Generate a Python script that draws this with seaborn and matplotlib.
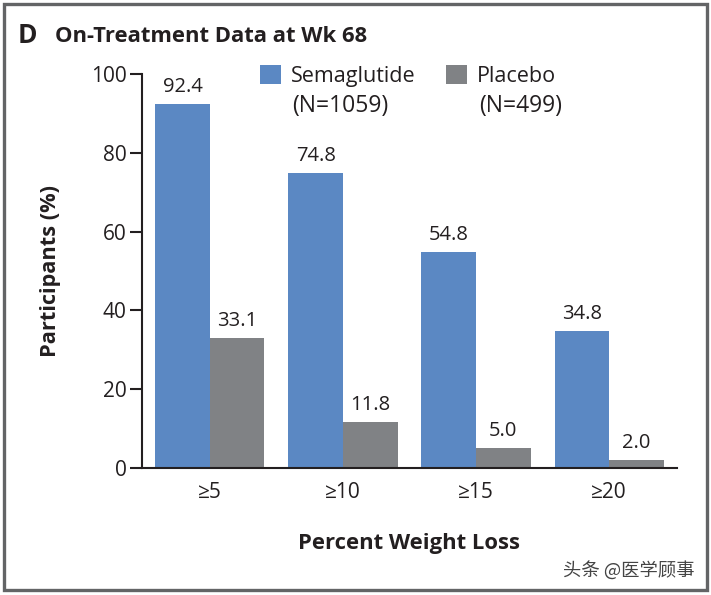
import pandas as pd
import seaborn as sns
import matplotlib.pyplot as plt
from matplotlib.patches import Rectangle

categories = ["≥5", "≥10", "≥15", "≥20"]
semaglutide = [92.4, 74.8, 54.8, 34.8]
placebo = [33.1, 11.8, 5.0, 2.0]
group_names = ["Semaglutide", "Placebo"]
group_counts = ["(N=1059)", "(N=499)"]
y_ticks = [0, 20, 40, 60, 80, 100]

df = pd.DataFrame({
    "threshold": categories * 2,
    "value": semaglutide + placebo,
    "group": [group_names[0]] * 4 + [group_names[1]] * 4,
})

sns.set_style("white")
plt.rcParams["font.family"] = ["Open Sans", "DejaVu Sans"]
ink = "#231f20"

W, H = 711, 595
fig = plt.figure(figsize=(W / 100, H / 100), dpi=100)
ax = fig.add_axes([142 / W, 1 - 468 / H, (677 - 142) / W, (468 - 74) / H])

sns.barplot(data=df, x="threshold", y="value", hue="group", ax=ax, width=0.82,
            palette=["#5b88c3", "#808285"], saturation=1, linewidth=0, legend=True)

for bars in ax.containers:
    ax.bar_label(bars, fmt="%.1f", padding=5, fontsize=14.5, color=ink)

ax.set_xlim(-0.51, 3.51)
ax.set_ylim(0, 100)
ax.set_yticks(y_ticks)
ax.set_xlabel("Percent Weight Loss", fontsize=15.8, fontweight="bold", color=ink, labelpad=22)
ax.set_ylabel("Participants (%)", fontsize=15.7, fontweight="bold", color=ink, labelpad=21.5)
ax.tick_params(axis="y", direction="out", length=9, width=1.5, color=ink, left=True,
               labelsize=15, labelcolor=ink, pad=2)
ax.tick_params(axis="x", length=0, labelsize=15, labelcolor=ink, pad=10)
sns.despine(ax=ax)
for side in ["left", "bottom"]:
    ax.spines[side].set_linewidth(1.5)
    ax.spines[side].set_color(ink)

sns.move_legend(ax, "upper left", bbox_to_anchor=(0.22, 1.024), ncol=2, frameon=False, title=None,
                fontsize=15.5, handlelength=1.0, handleheight=1.0, handletextpad=0.45,
                columnspacing=1.4, labelcolor=ink, borderpad=0, borderaxespad=0)

# second legend line
fig.text(292 / W, 1 - 112 / H, group_counts[0], fontsize=16.5, color=ink)
fig.text(479 / W, 1 - 112 / H, group_counts[1], fontsize=16.5, color=ink)

# panel header and outer frame
fig.text(18 / W, 1 - 43 / H, "D", fontsize=19, fontweight="bold", color=ink)
fig.text(55 / W, 1 - 42 / H, "On-Treatment Data at Wk 68", fontsize=15.8, fontweight="bold", color=ink)
fig.add_artist(Rectangle((3.5 / W, 5 / H), 703.5 / W, 586 / H, transform=fig.transFigure,
                         fill=False, edgecolor="#636466", linewidth=2.4))

fig.text(695 / W, 1 - 576 / H, "头条 @医学顾事", ha="right", fontsize=13.2, color="#444444",
         family=["Noto Sans CJK SC", "DejaVu Sans"])

fig.savefig("out.png", dpi=100)
